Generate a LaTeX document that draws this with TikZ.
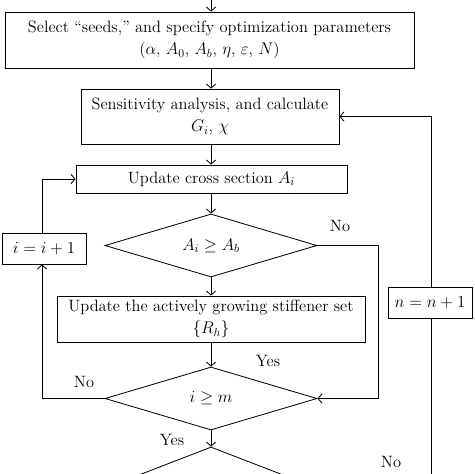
\documentclass[tikz,border=0pt]{standalone}
\usepackage{amsmath, amssymb}
\usepackage{tikz}
\usetikzlibrary{arrows.meta, shapes.geometric, positioning, calc}

\tikzset{
  blk/.style={draw, line width=0.7pt, align=center, inner sep=0pt, fill=white},
  cond/.style={draw, diamond, aspect=3.4, line width=0.7pt, inner sep=0pt, fill=white},
  flow/.style={line width=0.7pt, -{Straight Barb[length=3.5pt, width=8pt]}},
  lbl/.style={font=\fontsize{14}{16}\selectfont}
}

\begin{document}
\begin{tikzpicture}[x=0.03cm, y=-0.03cm, font=\fontsize{14}{18.8}\selectfont]
        \useasboundingbox (0,0) rectangle (474,474);
        \clip (0,0) rectangle (474,474);

        % Main column
        \node[blk, minimum width=12.27cm, minimum height=1.68cm] (seeds) at (209.5,40)
          {Select ``seeds,'' and specify optimization parameters\\
           ($\alpha$, $A_0$, $A_b$, $\eta$, $\varepsilon$, $N$)};
        \node[blk, minimum width=7.74cm, minimum height=1.65cm] (sens) at (210,116.5)
          {Sensitivity analysis, and calculate\\ $G_i$, $\chi$};
        \node[blk, minimum width=8.13cm, minimum height=0.84cm] (cross) at (211.5,179)
          {Update cross section $A_i$};
        \node[cond, minimum width=6.36cm, minimum height=1.89cm] (chkA) at (211,245.5)
          {$A_i \geq A_b$};
        \node[blk, minimum width=9.24cm, minimum height=1.38cm] (grow) at (211,319)
          {Update the actively growing stiffener set\\ $\{R_h\}$};
        \node[cond, minimum width=6.36cm, minimum height=1.89cm] (chkI) at (211,398.5)
          {$i \geq m$};
        \node[cond, aspect=2.6, minimum width=6.36cm, minimum height=2.46cm] (chkN) at (211,488) {};

        % Counters
        \node[blk, minimum width=2.52cm, minimum height=0.93cm] (inci) at (44,248.5)
          {$i = i + 1$};
        \node[blk, minimum width=2.52cm, minimum height=0.93cm] (incn) at (430,302.5)
          {$n = n + 1$};

        \coordinate (start) at (211,0);
        \coordinate (turnA) at (378,246);
        \coordinate (lowN) at (431,474);

        % Connectors
        \draw[flow] (start) -- (seeds.north -| start);
        \draw[flow] (seeds.south -| start) -- (sens.north -| start);
        \draw[flow] (sens.south -| start) -- (cross.north -| start);
        \draw[flow] (cross.south -| start) -- (chkA.north);
        \draw[flow] (chkA.south) -- (grow.north -| chkA.south);
        \draw[flow] (grow.south -| chkA.south) -- (chkI.north);
        \draw[flow] (chkI.south) -- (chkN.north);

        \draw[flow] (chkA.east) -- (chkA.east -| turnA) |- (chkI.east);
        \draw[flow] (chkI.west) -| ([xshift=-2*0.03cm]inci.south);
        \draw[flow] ([xshift=-2*0.03cm]inci.north) |- (cross.west);
        \draw[flow] (incn.north -| lowN) |- (sens.east);
        \draw[line width=0.7pt] (lowN) -- (incn.south -| lowN);

        % Branch labels
        \node[lbl] (noA) at (340,226) {No};
        \node[lbl] (yesA) at (268,361) {Yes};
        \node[lbl] (noI) at (84,382) {No};
        \node[lbl] (yesI) at (172,440) {Yes};
        \node[lbl] (noN) at (391,462) {No};
      \end{tikzpicture}
\end{document}
